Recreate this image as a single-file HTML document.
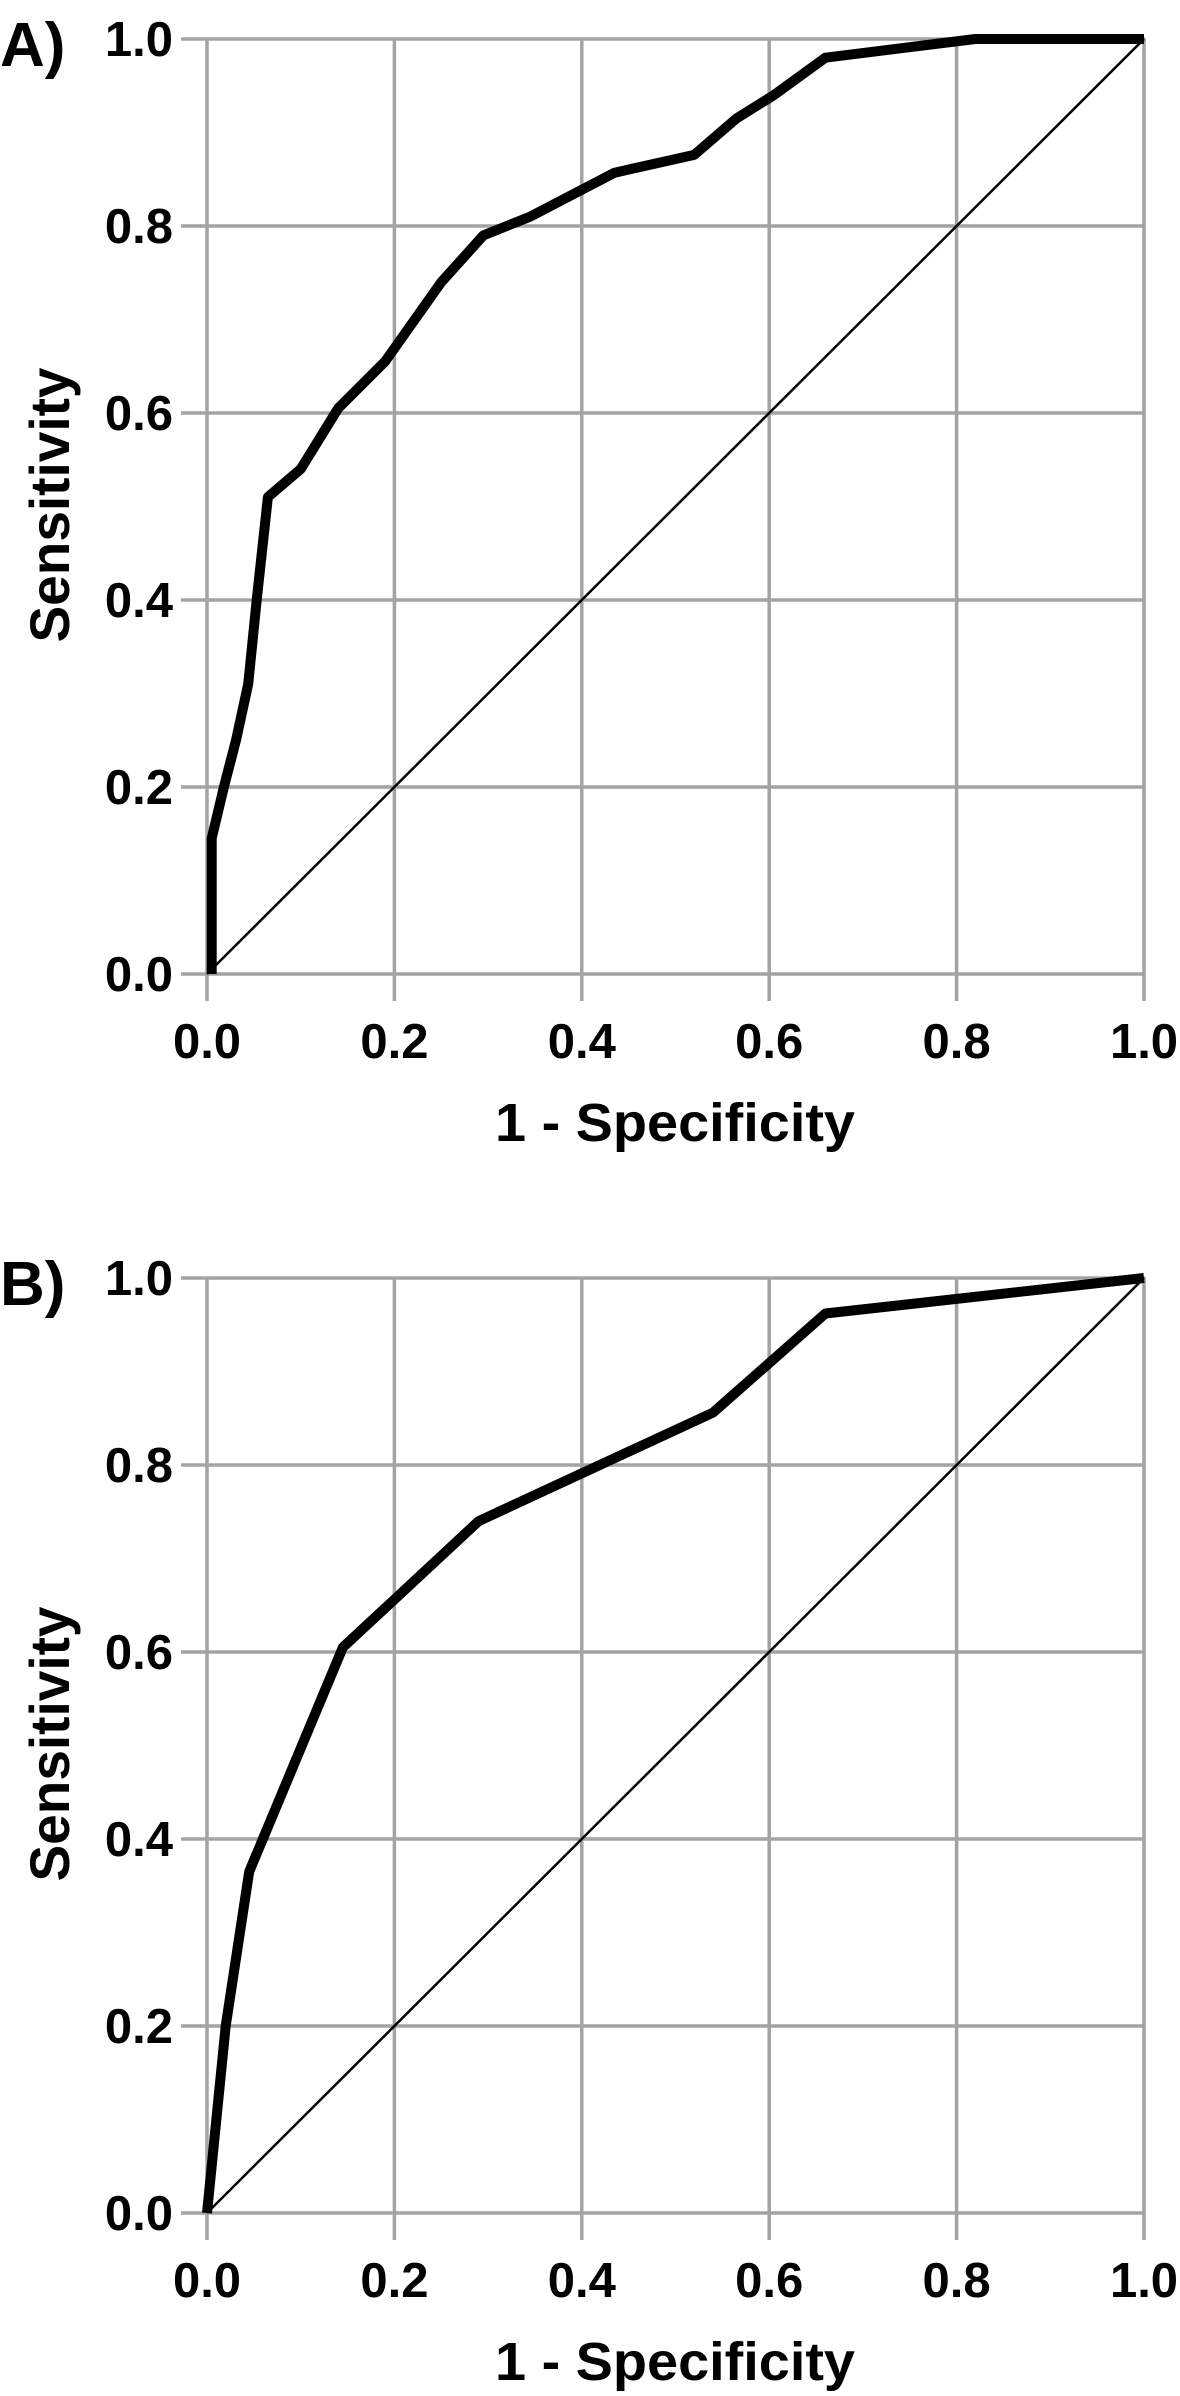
<!DOCTYPE html>
<html><head><meta charset="utf-8"><style>
html,body{margin:0;padding:0;background:#fff;}
svg{display:block;}
text{font-family:"Liberation Sans",Arial,sans-serif;font-weight:bold;fill:#000;}
</style></head><body>
<svg id="chart" width="1180" height="2396" viewBox="0 0 1180 2396" xmlns="http://www.w3.org/2000/svg"></svg>
<script>
const ticks = [0, 0.2, 0.4, 0.6, 0.8, 1.0];
const tickLabels = ["0.0", "0.2", "0.4", "0.6", "0.8", "1.0"];
const rocAx = [0.005, 0.005, 0.018, 0.031, 0.044, 0.053, 0.065, 0.1, 0.14, 0.19, 0.25, 0.295, 0.345, 0.435, 0.52, 0.565, 0.605, 0.66, 0.82, 1.0];
const rocAy = [0, 0.145, 0.2, 0.25, 0.31, 0.40, 0.51, 0.54, 0.605, 0.655, 0.74, 0.79, 0.81, 0.857, 0.876, 0.915, 0.94, 0.98, 1.0, 1.0];
const rocBx = [0, 0.02, 0.045, 0.145, 0.29, 0.54, 0.66, 1.0];
const rocBy = [0, 0.2, 0.365, 0.605, 0.74, 0.856, 0.962, 1.0];

const NS = "http://www.w3.org/2000/svg";
const svg = document.getElementById("chart");
function mk(tag, attrs, parent) {
  const e = document.createElementNS(NS, tag);
  for (const k in attrs) e.setAttribute(k, attrs[k]);
  (parent || svg).appendChild(e);
  return e;
}
const X0 = 207, X1 = 1144;
function panel(label, top, xs, ys, id) {
  const Y1 = top, Y0 = top + 935;
  const sx = v => X0 + v * (X1 - X0);
  const sy = v => Y0 - v * (Y0 - Y1);
  const g = mk("g", {});
  
  
  ticks.forEach((t, i) => {
    const h = mk("line", {x1: 181, x2: sx(1) + 1, y1: sy(t), y2: sy(t), stroke: "#a3a3a6", "stroke-width": 3.5}, g);
    
    
    const v = mk("line", {x1: sx(t), x2: sx(t), y1: Y1 - 1, y2: Y0 + 27, stroke: "#a3a3a6", "stroke-width": 3.5}, g);
    
    
    const yl = mk("text", {x: 173, y: sy(t) + 17, "text-anchor": "end", "font-size": 49}, g);
    yl.textContent = tickLabels[i];
    
    
    const xl = mk("text", {x: sx(t), y: Y0 + 84, "text-anchor": "middle", "font-size": 49}, g);
    xl.textContent = tickLabels[i];
    
    
  });
  const d = mk("line", {x1: sx(0), y1: sy(0), x2: sx(1), y2: sy(1), stroke: "#000", "stroke-width": 2.5}, g);
  
  
  const pts = xs.map((x, i) => sx(x).toFixed(1) + "," + sy(ys[i]).toFixed(1)).join(" ");
  const c = mk("polyline", {points: pts, fill: "none", stroke: "#000", "stroke-width": 10, "stroke-linejoin": "round"}, g);
  
  
  const pl = mk("text", {x: 0, y: top + 27, "font-size": 62}, g);
  pl.textContent = label;
  
  
  const xt = mk("text", {x: 675, y: Y0 + 167, "text-anchor": "middle", "font-size": 54, textLength: 360, lengthAdjust: "spacingAndGlyphs"}, g);
  xt.textContent = "1 - Specificity";
  
  
  const cy = top + 466;
  const yt = mk("text", {x: 0, y: 0, "text-anchor": "middle", "font-size": 56, textLength: 275, lengthAdjust: "spacingAndGlyphs", transform: "translate(69," + cy + ") rotate(-90)"}, g);
  yt.textContent = "Sensitivity";
  
  
}
panel("A)", 39, rocAx, rocAy, "a");
panel("B)", 1278, rocBx, rocBy, "b");
</script>
</body></html>
